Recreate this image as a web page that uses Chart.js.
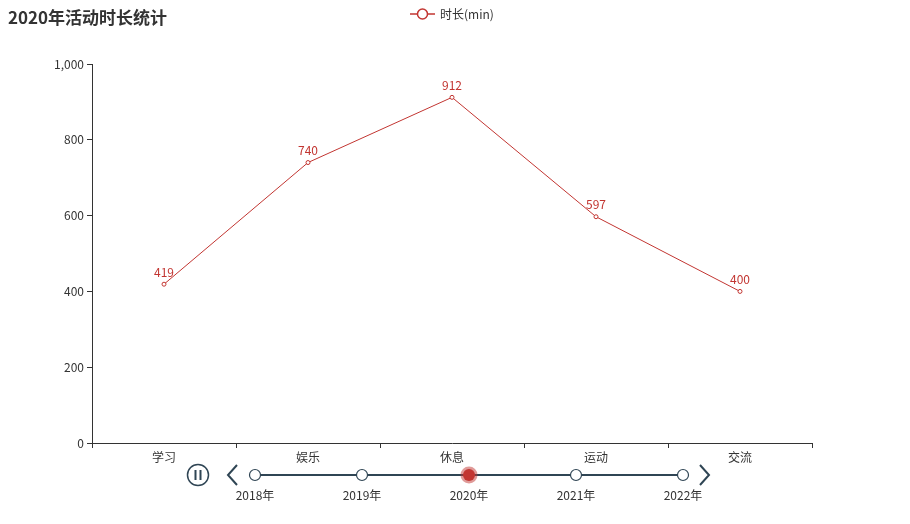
<!DOCTYPE html>
<html><head><meta charset="utf-8">
<script src="https://cdn.jsdelivr.net/npm/chart.js@4/dist/chart.umd.min.js"></script>
<style>html,body{margin:0;padding:0;background:#fff}#w{position:relative;width:910px;height:524px}</style>
</head><body><div id="w"><canvas id="c" width="910" height="524"></canvas></div>
<script>
const titleText = "2020年活动时长统计";
const seriesName = "时长(min)";
const categories = ["学习","娱乐","休息","运动","交流"];
const values = [419,740,912,597,400];
const timelineLabels = ["2018年","2019年","2020年","2021年","2022年"];
const currentIndex = 2;
const yTicks = [0,200,400,600,800,1000];

const RED = "#c23531", DARK = "#2f4554";
const FONT = "'Noto Sans CJK SC','Noto Sans',sans-serif";

const deco = {
  id:'deco',
  afterDraw(chart){
    const ctx = chart.ctx;
    ctx.save();
    // title
    ctx.fillStyle = "#333"; ctx.font = "bold 17px " + FONT;
    ctx.textBaseline = "middle"; ctx.textAlign = "left";
    ctx.fillText(titleText, 8, 18);
    // legend
    ctx.strokeStyle = RED; ctx.lineWidth = 1.5;
    ctx.beginPath(); ctx.moveTo(410,14); ctx.lineTo(435,14); ctx.stroke();
    ctx.fillStyle = "#fff"; ctx.beginPath(); ctx.arc(422.5,14,5,0,Math.PI*2); ctx.fill(); ctx.stroke();
    ctx.fillStyle = "#333"; ctx.font = "12px " + FONT;
    ctx.fillText(seriesName, 440, 14);
    // data labels
    const meta = chart.getDatasetMeta(0);
    ctx.fillStyle = RED; ctx.textAlign = "center"; ctx.textBaseline = "bottom";
    meta.data.forEach((p,i)=>{ ctx.fillText(String(values[i]), p.x, p.y - 6); });
    // timeline
    const y = 475, n = timelineLabels.length, x0 = 255, x1 = 683;
    ctx.strokeStyle = DARK; ctx.lineWidth = 2;
    ctx.beginPath(); ctx.moveTo(x0,y); ctx.lineTo(x1,y); ctx.stroke();
    // play/pause
    ctx.lineWidth = 1.5;
    ctx.beginPath(); ctx.arc(198,y,10.5,0,Math.PI*2); ctx.stroke();
    ctx.fillStyle = DARK; ctx.fillRect(194.5,470,2,10); ctx.fillRect(199.5,470,2,10);
    // arrows
    ctx.lineWidth = 2;
    ctx.beginPath(); ctx.moveTo(237,465); ctx.lineTo(228,475); ctx.lineTo(237,485); ctx.stroke();
    ctx.beginPath(); ctx.moveTo(700,465); ctx.lineTo(709,475); ctx.lineTo(700,485); ctx.stroke();
    ctx.font = "12px " + FONT; ctx.textBaseline = "top";
    for(let i=0;i<n;i++){
      const x = x0 + (x1-x0)*i/(n-1);
      if(i===currentIndex){
        ctx.fillStyle = "rgba(194,53,49,0.5)"; ctx.beginPath(); ctx.arc(x,y,8.5,0,Math.PI*2); ctx.fill();
        ctx.fillStyle = RED; ctx.beginPath(); ctx.arc(x,y,6,0,Math.PI*2); ctx.fill();
      } else {
        ctx.fillStyle = "#fff"; ctx.strokeStyle = DARK; ctx.lineWidth = 1.2;
        ctx.beginPath(); ctx.arc(x,y,5.5,0,Math.PI*2); ctx.fill(); ctx.stroke();
      }
      ctx.fillStyle = "#333"; ctx.fillText(timelineLabels[i], x, 489);
    }
    ctx.restore();
  }
};

new Chart(document.getElementById('c'), {
  type:'line',
  data:{labels:categories, datasets:[{label:seriesName, data:values, borderColor:RED, borderWidth:1,
    pointRadius:2, pointBackgroundColor:"#fff", pointBorderColor:RED, pointBorderWidth:1, tension:0, fill:false}]},
  options:{
    responsive:false, animation:false,
    layout:{padding:{top:64,right:98,left:0,bottom:0}},
    plugins:{legend:{display:false}, title:{display:false}, tooltip:{enabled:false}},
    scales:{
      x:{offset:true,
        grid:{offset:true, drawOnChartArea:false, drawTicks:true, tickLength:5, color:"#333"},
        border:{color:"#333"},
        ticks:{color:"#333", font:{size:12, family:FONT}, padding:2},
        afterFit(s){ s.height = 81; }
      },
      y:{min:0,max:1000,
        afterBuildTicks(s){ s.ticks = yTicks.map(v=>({value:v})); },
        grid:{drawOnChartArea:false, drawTicks:true, tickLength:5, color:"#333"},
        border:{color:"#333"},
        ticks:{color:"#333", font:{size:12, family:FONT}, padding:3, callback:v=>v.toLocaleString('en-US')},
        afterFit(s){ s.width = 92; }
      }
    }
  },
  plugins:[deco]
});
</script></body></html>
